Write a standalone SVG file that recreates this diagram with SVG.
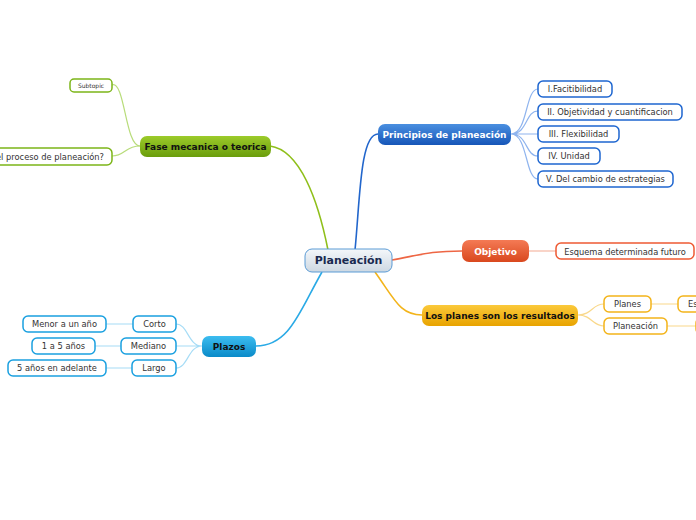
<svg xmlns="http://www.w3.org/2000/svg" width="696" height="520" viewBox="0 0 696 520">
<defs>
<linearGradient id="gB" x1="0" y1="0" x2="0" y2="1"><stop offset="0" stop-color="#4a8fe0"/><stop offset="1" stop-color="#1656b8"/></linearGradient>
<linearGradient id="gG" x1="0" y1="0" x2="0" y2="1"><stop offset="0" stop-color="#9ccb2a"/><stop offset="1" stop-color="#6a9d0c"/></linearGradient>
<linearGradient id="gR" x1="0" y1="0" x2="0" y2="1"><stop offset="0" stop-color="#f47a55"/><stop offset="1" stop-color="#d9481e"/></linearGradient>
<linearGradient id="gY" x1="0" y1="0" x2="0" y2="1"><stop offset="0" stop-color="#fbc93a"/><stop offset="1" stop-color="#e8a300"/></linearGradient>
<linearGradient id="gC" x1="0" y1="0" x2="0" y2="1"><stop offset="0" stop-color="#3cbdf0"/><stop offset="1" stop-color="#0a8ac8"/></linearGradient>
<linearGradient id="gM" x1="0" y1="0" x2="0" y2="1"><stop offset="0" stop-color="#f4f7fa"/><stop offset="1" stop-color="#cdd8e2"/></linearGradient>
</defs>
<style>
text{font-family:"DejaVu Sans",sans-serif;font-size:8.3px;fill:#333;text-anchor:middle;dominant-baseline:central}
.m{font-weight:bold;font-size:9px;fill:#111}
.w{fill:#fff}
.s{fill:#fff;stroke-width:1.5}
path{fill:none}
</style>
<g id="connectors" stroke-width="1.2">
<path d="M328 250 C318 200 300 150 270 146" stroke="#8fbf1a" stroke-width="1.6"/>
<path d="M140 146 C125 146 125 80 112 85" stroke="#b8dc7a"/>
<path d="M140 146 C125 146 125 156 112 156" stroke="#b8dc7a"/>
<path d="M355 250 C360 200 360 134 378 134" stroke="#2266cc" stroke-width="1.6"/>
<path d="M511 134 C528 134 525 89 538 89 M511 134 C528 134 525 111 538 111 M511 134 C528 134 525 134 538 134 M511 134 C528 134 525 156 538 156 M511 134 C528 134 525 179 538 179" stroke="#8fb4ee"/>
<path d="M392 260 C420 255 430 251 462 251" stroke="#ee6644" stroke-width="1.6"/>
<path d="M529 251 L556 251" stroke="#f6b8a4"/>
<path d="M375 272 C395 300 400 315 422 315" stroke="#f3b41a" stroke-width="1.6"/>
<path d="M578 315 C592 315 592 304 604 304 M578 315 C592 315 592 326 604 326 M651 304 L678 304 M667 326 L696 326" stroke="#f9d88a"/>
<path d="M322 272 C300 310 290 346 256 346" stroke="#2aaae6" stroke-width="1.6"/>
<path d="M202 346 C188 346 188 324 176 324 M202 346 L176 346 M202 346 C188 346 188 368 176 368 M133 324 L106 324 M121 346 L95 346 M132 368 L106 368" stroke="#a6dcf6"/>
</g>
<g id="central"><rect x="305" y="249" width="87" height="23" rx="7" fill="url(#gM)" stroke="#5b9bd5"/><text x="348.5" y="260.5" style="font-size:11px;font-weight:bold;fill:#1a2a50">Planeación</text></g>
<g id="fase"><rect x="140" y="136" width="131" height="21" rx="7" fill="url(#gG)"/><text x="205.5" y="146.5" class="m">Fase mecanica o teorica</text></g>
<g id="subtopic"><rect x="70" y="79" width="42" height="13" rx="4" class="s" stroke="#7cb518"/><text x="91" y="85.5" style="font-size:6px">Subtopic</text></g>
<g id="proceso"><rect x="-10" y="148" width="122" height="17" rx="5" class="s" stroke="#7cb518"/><text x="104" y="156.5" style="text-anchor:end">el proceso de planeación?</text></g>
<g id="principios"><rect x="378" y="124" width="133" height="21" rx="7" fill="url(#gB)"/><text x="444.5" y="134.5" class="m w">Principios de planeación</text></g>
<g id="p1"><rect x="538" y="81" width="74" height="16" rx="5" class="s" stroke="#1e66d0"/><text x="575" y="89">I.Facitibilidad</text></g>
<g id="p2"><rect x="538" y="104" width="144" height="16" rx="5" class="s" stroke="#1e66d0"/><text x="610" y="112">II. Objetividad y cuantificacion</text></g>
<g id="p3"><rect x="538" y="126" width="81" height="16" rx="5" class="s" stroke="#1e66d0"/><text x="578.5" y="134">III. Flexibilidad</text></g>
<g id="p4"><rect x="538" y="148" width="62" height="16" rx="5" class="s" stroke="#1e66d0"/><text x="569" y="156">IV. Unidad</text></g>
<g id="p5"><rect x="538" y="171" width="135" height="16" rx="5" class="s" stroke="#1e66d0"/><text x="605.5" y="179">V. Del cambio de estrategias</text></g>
<g id="objetivo"><rect x="462" y="240" width="67" height="22" rx="7" fill="url(#gR)"/><text x="495.5" y="251.5" class="m w">Objetivo</text></g>
<g id="esquema"><rect x="556" y="243" width="138" height="16" rx="5" class="s" stroke="#ee5a33"/><text x="625" y="251.5">Esquema determinada futuro</text></g>
<g id="planes"><rect x="422" y="305" width="156" height="21" rx="7" fill="url(#gY)"/><text x="500" y="315.5" class="m">Los planes son los resultados</text></g>
<g id="planesc"><rect x="604" y="296" width="47" height="16" rx="5" class="s" stroke="#f3b41a"/><text x="627.5" y="304">Planes</text></g>
<g id="es"><rect x="678" y="296" width="30" height="16" rx="5" class="s" stroke="#f3b41a"/><text x="688" y="304" style="text-anchor:start">Es</text></g>
<g id="planeacionc"><rect x="604" y="318" width="63" height="16" rx="5" class="s" stroke="#f3b41a"/><text x="635.5" y="326">Planeación</text></g>
<g id="pl2"><rect x="696" y="318" width="20" height="16" rx="5" class="s" stroke="#f3b41a"/></g>
<g id="plazos"><rect x="202" y="336" width="54" height="21" rx="7" fill="url(#gC)"/><text x="229" y="346.5" class="m">Plazos</text></g>
<g id="corto"><rect x="133" y="316" width="43" height="16" rx="5" class="s" stroke="#1aa0e0"/><text x="154.5" y="324">Corto</text></g>
<g id="mediano"><rect x="121" y="338" width="55" height="16" rx="5" class="s" stroke="#1aa0e0"/><text x="148.5" y="346">Mediano</text></g>
<g id="largo"><rect x="132" y="360" width="44" height="16" rx="5" class="s" stroke="#1aa0e0"/><text x="154" y="368">Largo</text></g>
<g id="menor"><rect x="23" y="316" width="83" height="16" rx="5" class="s" stroke="#1aa0e0"/><text x="64.5" y="324">Menor a un año</text></g>
<g id="uno"><rect x="32" y="338" width="63" height="16" rx="5" class="s" stroke="#1aa0e0"/><text x="63.5" y="346">1 a 5 años</text></g>
<g id="cinco"><rect x="8" y="360" width="98" height="16" rx="5" class="s" stroke="#1aa0e0"/><text x="57" y="368">5 años en adelante</text></g>
</svg>
